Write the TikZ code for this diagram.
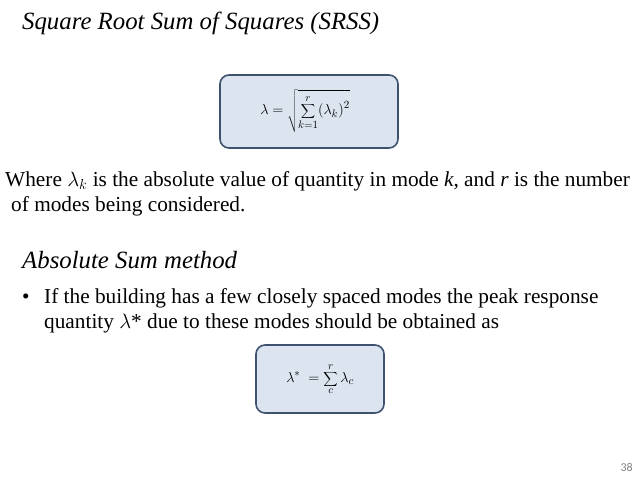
\documentclass[tikz,border=0pt]{standalone}
\usepackage{fontspec}
\setmainfont{Liberation Serif}
\newfontfamily\calib{Carlito}
\begin{document}
\begin{tikzpicture}[x=1pt,y=-1pt,
  fbox/.style={draw={rgb,255:red,62;green,82;blue,112},line width=1.6pt,fill={rgb,255:red,220;green,228;blue,240},rounded corners=9pt},
  txt/.style={anchor=base west,inner sep=0pt,font=\fontsize{21.3}{25}\selectfont}]
\useasboundingbox (0,0) rectangle (638,479);
\node[txt,font=\fontsize{24.8}{28}\selectfont\itshape] (t1) at (22,29) {Square Root Sum of Squares (SRSS)};
\draw[fbox] (220,75) rectangle (398,148);
\node (f1) at (305,111) {\fontsize{15}{18}\selectfont$\displaystyle\lambda=\sqrt{\displaystyle\sum\limits_{k=1}^{r}(\lambda_k)^2}$};
\node[txt] (w1) at (5,186) {Where $\lambda_k$ is the absolute value of quantity in mode \textit{k}, and \textit{r} is the number};
\node[txt] (w2) at (11,211) {of modes being considered.};
\node[txt,font=\fontsize{24.8}{28}\selectfont\itshape] (t2) at (22,268) {Absolute Sum method};
\node[txt] (b1) at (22,303) {•};
\node[txt] (l1) at (44,303) {If the building has a few closely spaced modes the peak response};
\node[txt] (l2) at (44,328) {quantity $\lambda$* due to these modes should be obtained as};
\draw[fbox] (256,345) rectangle (384,413);
\node (f2) at (320,379) {\fontsize{15}{18}\selectfont$\displaystyle\lambda^{*}\;=\sum\limits_{c}^{r}\lambda_c$};
\node[anchor=base east,inner sep=0pt,font=\calib\fontsize{12}{14}\selectfont,text=gray] (pg) at (633,471) {38};
\end{tikzpicture}
\end{document}
